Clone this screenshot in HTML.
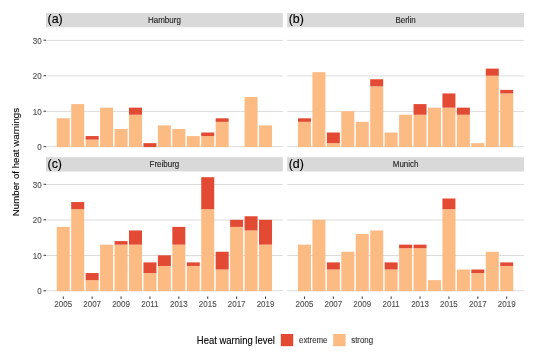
<!DOCTYPE html>
<html><head><meta charset="utf-8"><style>
html,body{margin:0;padding:0;background:#fff;}
svg{display:block;font-family:"Liberation Sans", sans-serif;will-change:transform;}
</style></head><body>
<svg width="550" height="355" viewBox="0 0 550 355">
<rect width="550" height="355" fill="#fff"/>
<rect x="46" y="13" width="236.8" height="14.3" fill="#D9D9D9"/>
<text transform="translate(164.4,22.9) scale(1,1.1)" font-size="8" fill="#1A1A1A" stroke="#1A1A1A" stroke-width="0.1" text-anchor="middle">Hamburg</text>
<text transform="translate(47.5,23.4)" font-size="12.4" fill="#000" stroke="#000" stroke-width="0.15">(a)</text>
<rect x="46" y="146.1" width="236.8" height="1" fill="#DCDCDC"/>
<rect x="43.6" y="146.2" width="2.4" height="1" fill="#333"/>
<text transform="translate(41.7,150) scale(1,1.15)" font-size="8" fill="#4D4D4D" stroke="#4D4D4D" stroke-width="0.1" text-anchor="end">0</text>
<rect x="46" y="110.9" width="236.8" height="1" fill="#DCDCDC"/>
<rect x="43.6" y="110.7" width="2.4" height="1" fill="#333"/>
<text transform="translate(41.7,114.5) scale(1,1.15)" font-size="8" fill="#4D4D4D" stroke="#4D4D4D" stroke-width="0.1" text-anchor="end">10</text>
<rect x="46" y="75.4" width="236.8" height="1" fill="#DCDCDC"/>
<rect x="43.6" y="75.2" width="2.4" height="1" fill="#333"/>
<text transform="translate(41.7,79) scale(1,1.15)" font-size="8" fill="#4D4D4D" stroke="#4D4D4D" stroke-width="0.1" text-anchor="end">20</text>
<rect x="46" y="39.9" width="236.8" height="1" fill="#DCDCDC"/>
<rect x="43.6" y="39.7" width="2.4" height="1" fill="#333"/>
<text transform="translate(41.7,43.5) scale(1,1.15)" font-size="8" fill="#4D4D4D" stroke="#4D4D4D" stroke-width="0.1" text-anchor="end">30</text>
<rect x="56.76" y="118.3" width="13" height="28.8" fill="#FDBB84"/>
<rect x="71.21" y="104.1" width="13" height="43" fill="#FDBB84"/>
<rect x="85.66" y="139.6" width="13" height="7.5" fill="#FDBB84"/>
<rect x="85.66" y="136.05" width="13" height="3.55" fill="#E34A33"/>
<rect x="100.1" y="107.65" width="13" height="39.45" fill="#FDBB84"/>
<rect x="114.55" y="128.95" width="13" height="18.15" fill="#FDBB84"/>
<rect x="129" y="114.75" width="13" height="32.35" fill="#FDBB84"/>
<rect x="129" y="107.65" width="13" height="7.1" fill="#E34A33"/>
<rect x="143.45" y="143.15" width="13" height="3.95" fill="#E34A33"/>
<rect x="157.89" y="125.4" width="13" height="21.7" fill="#FDBB84"/>
<rect x="172.34" y="128.95" width="13" height="18.15" fill="#FDBB84"/>
<rect x="186.79" y="136.05" width="13" height="11.05" fill="#FDBB84"/>
<rect x="201.23" y="136.05" width="13" height="11.05" fill="#FDBB84"/>
<rect x="201.23" y="132.5" width="13" height="3.55" fill="#E34A33"/>
<rect x="215.68" y="121.85" width="13" height="25.25" fill="#FDBB84"/>
<rect x="215.68" y="118.3" width="13" height="3.55" fill="#E34A33"/>
<rect x="244.57" y="97" width="13" height="50.1" fill="#FDBB84"/>
<rect x="259.02" y="125.4" width="13" height="21.7" fill="#FDBB84"/>
<rect x="287.2" y="13" width="236.8" height="14.3" fill="#D9D9D9"/>
<text transform="translate(405.6,22.9) scale(1,1.1)" font-size="8" fill="#1A1A1A" stroke="#1A1A1A" stroke-width="0.1" text-anchor="middle">Berlin</text>
<text transform="translate(288.7,23.4)" font-size="12.4" fill="#000" stroke="#000" stroke-width="0.15">(b)</text>
<rect x="287.2" y="146.1" width="236.8" height="1" fill="#DCDCDC"/>
<rect x="287.2" y="110.9" width="236.8" height="1" fill="#DCDCDC"/>
<rect x="287.2" y="75.4" width="236.8" height="1" fill="#DCDCDC"/>
<rect x="287.2" y="39.9" width="236.8" height="1" fill="#DCDCDC"/>
<rect x="297.96" y="121.85" width="13" height="25.25" fill="#FDBB84"/>
<rect x="297.96" y="118.3" width="13" height="3.55" fill="#E34A33"/>
<rect x="312.41" y="72.15" width="13" height="74.95" fill="#FDBB84"/>
<rect x="326.86" y="143.15" width="13" height="3.95" fill="#FDBB84"/>
<rect x="326.86" y="132.5" width="13" height="10.65" fill="#E34A33"/>
<rect x="341.3" y="111.2" width="13" height="35.9" fill="#FDBB84"/>
<rect x="355.75" y="121.85" width="13" height="25.25" fill="#FDBB84"/>
<rect x="370.2" y="86.35" width="13" height="60.75" fill="#FDBB84"/>
<rect x="370.2" y="79.25" width="13" height="7.1" fill="#E34A33"/>
<rect x="384.65" y="132.5" width="13" height="14.6" fill="#FDBB84"/>
<rect x="399.09" y="114.75" width="13" height="32.35" fill="#FDBB84"/>
<rect x="413.54" y="114.75" width="13" height="32.35" fill="#FDBB84"/>
<rect x="413.54" y="104.1" width="13" height="10.65" fill="#E34A33"/>
<rect x="427.99" y="107.65" width="13" height="39.45" fill="#FDBB84"/>
<rect x="442.43" y="107.65" width="13" height="39.45" fill="#FDBB84"/>
<rect x="442.43" y="93.45" width="13" height="14.2" fill="#E34A33"/>
<rect x="456.88" y="114.75" width="13" height="32.35" fill="#FDBB84"/>
<rect x="456.88" y="107.65" width="13" height="7.1" fill="#E34A33"/>
<rect x="471.33" y="143.15" width="13" height="3.95" fill="#FDBB84"/>
<rect x="485.77" y="75.7" width="13" height="71.4" fill="#FDBB84"/>
<rect x="485.77" y="68.6" width="13" height="7.1" fill="#E34A33"/>
<rect x="500.22" y="93.45" width="13" height="53.65" fill="#FDBB84"/>
<rect x="500.22" y="89.9" width="13" height="3.55" fill="#E34A33"/>
<rect x="46" y="157.2" width="236.8" height="14.3" fill="#D9D9D9"/>
<text transform="translate(164.4,167.1) scale(1,1.1)" font-size="8" fill="#1A1A1A" stroke="#1A1A1A" stroke-width="0.1" text-anchor="middle">Freiburg</text>
<text transform="translate(47.5,167.6)" font-size="12.4" fill="#000" stroke="#000" stroke-width="0.15">(c)</text>
<rect x="46" y="290.2" width="236.8" height="1" fill="#DCDCDC"/>
<rect x="43.6" y="290.3" width="2.4" height="1" fill="#333"/>
<text transform="translate(41.7,294.1) scale(1,1.15)" font-size="8" fill="#4D4D4D" stroke="#4D4D4D" stroke-width="0.1" text-anchor="end">0</text>
<rect x="46" y="255" width="236.8" height="1" fill="#DCDCDC"/>
<rect x="43.6" y="254.8" width="2.4" height="1" fill="#333"/>
<text transform="translate(41.7,258.6) scale(1,1.15)" font-size="8" fill="#4D4D4D" stroke="#4D4D4D" stroke-width="0.1" text-anchor="end">10</text>
<rect x="46" y="219.5" width="236.8" height="1" fill="#DCDCDC"/>
<rect x="43.6" y="219.3" width="2.4" height="1" fill="#333"/>
<text transform="translate(41.7,223.1) scale(1,1.15)" font-size="8" fill="#4D4D4D" stroke="#4D4D4D" stroke-width="0.1" text-anchor="end">20</text>
<rect x="46" y="184" width="236.8" height="1" fill="#DCDCDC"/>
<rect x="43.6" y="183.8" width="2.4" height="1" fill="#333"/>
<text transform="translate(41.7,187.6) scale(1,1.15)" font-size="8" fill="#4D4D4D" stroke="#4D4D4D" stroke-width="0.1" text-anchor="end">30</text>
<rect x="56.76" y="226.9" width="13" height="64.3" fill="#FDBB84"/>
<rect x="71.21" y="209.15" width="13" height="82.05" fill="#FDBB84"/>
<rect x="71.21" y="202.05" width="13" height="7.1" fill="#E34A33"/>
<rect x="85.66" y="280.15" width="13" height="11.05" fill="#FDBB84"/>
<rect x="85.66" y="273.05" width="13" height="7.1" fill="#E34A33"/>
<rect x="100.1" y="244.65" width="13" height="46.55" fill="#FDBB84"/>
<rect x="114.55" y="244.65" width="13" height="46.55" fill="#FDBB84"/>
<rect x="114.55" y="241.1" width="13" height="3.55" fill="#E34A33"/>
<rect x="129" y="244.65" width="13" height="46.55" fill="#FDBB84"/>
<rect x="129" y="230.45" width="13" height="14.2" fill="#E34A33"/>
<rect x="143.45" y="273.05" width="13" height="18.15" fill="#FDBB84"/>
<rect x="143.45" y="262.4" width="13" height="10.65" fill="#E34A33"/>
<rect x="157.89" y="265.95" width="13" height="25.25" fill="#FDBB84"/>
<rect x="157.89" y="255.3" width="13" height="10.65" fill="#E34A33"/>
<rect x="172.34" y="244.65" width="13" height="46.55" fill="#FDBB84"/>
<rect x="172.34" y="226.9" width="13" height="17.75" fill="#E34A33"/>
<rect x="186.79" y="265.95" width="13" height="25.25" fill="#FDBB84"/>
<rect x="186.79" y="262.4" width="13" height="3.55" fill="#E34A33"/>
<rect x="201.23" y="209.15" width="13" height="82.05" fill="#FDBB84"/>
<rect x="201.23" y="177.2" width="13" height="31.95" fill="#E34A33"/>
<rect x="215.68" y="269.5" width="13" height="21.7" fill="#FDBB84"/>
<rect x="215.68" y="251.75" width="13" height="17.75" fill="#E34A33"/>
<rect x="230.13" y="226.9" width="13" height="64.3" fill="#FDBB84"/>
<rect x="230.13" y="219.8" width="13" height="7.1" fill="#E34A33"/>
<rect x="244.57" y="230.45" width="13" height="60.75" fill="#FDBB84"/>
<rect x="244.57" y="216.25" width="13" height="14.2" fill="#E34A33"/>
<rect x="259.02" y="244.65" width="13" height="46.55" fill="#FDBB84"/>
<rect x="259.02" y="219.8" width="13" height="24.85" fill="#E34A33"/>
<rect x="62.76" y="296.48" width="1" height="2.4" fill="#333"/>
<text transform="translate(63.26,306.78) scale(1,1.15)" font-size="8" fill="#4D4D4D" stroke="#4D4D4D" stroke-width="0.1" text-anchor="middle">2005</text>
<rect x="91.66" y="296.48" width="1" height="2.4" fill="#333"/>
<text transform="translate(92.16,306.78) scale(1,1.15)" font-size="8" fill="#4D4D4D" stroke="#4D4D4D" stroke-width="0.1" text-anchor="middle">2007</text>
<rect x="120.55" y="296.48" width="1" height="2.4" fill="#333"/>
<text transform="translate(121.05,306.78) scale(1,1.15)" font-size="8" fill="#4D4D4D" stroke="#4D4D4D" stroke-width="0.1" text-anchor="middle">2009</text>
<rect x="149.45" y="296.48" width="1" height="2.4" fill="#333"/>
<text transform="translate(149.95,306.78) scale(1,1.15)" font-size="8" fill="#4D4D4D" stroke="#4D4D4D" stroke-width="0.1" text-anchor="middle">2011</text>
<rect x="178.34" y="296.48" width="1" height="2.4" fill="#333"/>
<text transform="translate(178.84,306.78) scale(1,1.15)" font-size="8" fill="#4D4D4D" stroke="#4D4D4D" stroke-width="0.1" text-anchor="middle">2013</text>
<rect x="207.23" y="296.48" width="1" height="2.4" fill="#333"/>
<text transform="translate(207.73,306.78) scale(1,1.15)" font-size="8" fill="#4D4D4D" stroke="#4D4D4D" stroke-width="0.1" text-anchor="middle">2015</text>
<rect x="236.13" y="296.48" width="1" height="2.4" fill="#333"/>
<text transform="translate(236.63,306.78) scale(1,1.15)" font-size="8" fill="#4D4D4D" stroke="#4D4D4D" stroke-width="0.1" text-anchor="middle">2017</text>
<rect x="265.02" y="296.48" width="1" height="2.4" fill="#333"/>
<text transform="translate(265.52,306.78) scale(1,1.15)" font-size="8" fill="#4D4D4D" stroke="#4D4D4D" stroke-width="0.1" text-anchor="middle">2019</text>
<rect x="287.2" y="157.2" width="236.8" height="14.3" fill="#D9D9D9"/>
<text transform="translate(405.6,167.1) scale(1,1.1)" font-size="8" fill="#1A1A1A" stroke="#1A1A1A" stroke-width="0.1" text-anchor="middle">Munich</text>
<text transform="translate(288.7,167.6)" font-size="12.4" fill="#000" stroke="#000" stroke-width="0.15">(d)</text>
<rect x="287.2" y="290.2" width="236.8" height="1" fill="#DCDCDC"/>
<rect x="287.2" y="255" width="236.8" height="1" fill="#DCDCDC"/>
<rect x="287.2" y="219.5" width="236.8" height="1" fill="#DCDCDC"/>
<rect x="287.2" y="184" width="236.8" height="1" fill="#DCDCDC"/>
<rect x="297.96" y="244.65" width="13" height="46.55" fill="#FDBB84"/>
<rect x="312.41" y="219.8" width="13" height="71.4" fill="#FDBB84"/>
<rect x="326.86" y="269.5" width="13" height="21.7" fill="#FDBB84"/>
<rect x="326.86" y="262.4" width="13" height="7.1" fill="#E34A33"/>
<rect x="341.3" y="251.75" width="13" height="39.45" fill="#FDBB84"/>
<rect x="355.75" y="234" width="13" height="57.2" fill="#FDBB84"/>
<rect x="370.2" y="230.45" width="13" height="60.75" fill="#FDBB84"/>
<rect x="384.65" y="269.5" width="13" height="21.7" fill="#FDBB84"/>
<rect x="384.65" y="262.4" width="13" height="7.1" fill="#E34A33"/>
<rect x="399.09" y="248.2" width="13" height="43" fill="#FDBB84"/>
<rect x="399.09" y="244.65" width="13" height="3.55" fill="#E34A33"/>
<rect x="413.54" y="248.2" width="13" height="43" fill="#FDBB84"/>
<rect x="413.54" y="244.65" width="13" height="3.55" fill="#E34A33"/>
<rect x="427.99" y="280.15" width="13" height="11.05" fill="#FDBB84"/>
<rect x="442.43" y="209.15" width="13" height="82.05" fill="#FDBB84"/>
<rect x="442.43" y="198.5" width="13" height="10.65" fill="#E34A33"/>
<rect x="456.88" y="269.5" width="13" height="21.7" fill="#FDBB84"/>
<rect x="471.33" y="273.05" width="13" height="18.15" fill="#FDBB84"/>
<rect x="471.33" y="269.5" width="13" height="3.55" fill="#E34A33"/>
<rect x="485.77" y="251.75" width="13" height="39.45" fill="#FDBB84"/>
<rect x="500.22" y="265.95" width="13" height="25.25" fill="#FDBB84"/>
<rect x="500.22" y="262.4" width="13" height="3.55" fill="#E34A33"/>
<rect x="303.96" y="296.48" width="1" height="2.4" fill="#333"/>
<text transform="translate(304.46,306.78) scale(1,1.15)" font-size="8" fill="#4D4D4D" stroke="#4D4D4D" stroke-width="0.1" text-anchor="middle">2005</text>
<rect x="332.86" y="296.48" width="1" height="2.4" fill="#333"/>
<text transform="translate(333.36,306.78) scale(1,1.15)" font-size="8" fill="#4D4D4D" stroke="#4D4D4D" stroke-width="0.1" text-anchor="middle">2007</text>
<rect x="361.75" y="296.48" width="1" height="2.4" fill="#333"/>
<text transform="translate(362.25,306.78) scale(1,1.15)" font-size="8" fill="#4D4D4D" stroke="#4D4D4D" stroke-width="0.1" text-anchor="middle">2009</text>
<rect x="390.65" y="296.48" width="1" height="2.4" fill="#333"/>
<text transform="translate(391.15,306.78) scale(1,1.15)" font-size="8" fill="#4D4D4D" stroke="#4D4D4D" stroke-width="0.1" text-anchor="middle">2011</text>
<rect x="419.54" y="296.48" width="1" height="2.4" fill="#333"/>
<text transform="translate(420.04,306.78) scale(1,1.15)" font-size="8" fill="#4D4D4D" stroke="#4D4D4D" stroke-width="0.1" text-anchor="middle">2013</text>
<rect x="448.43" y="296.48" width="1" height="2.4" fill="#333"/>
<text transform="translate(448.93,306.78) scale(1,1.15)" font-size="8" fill="#4D4D4D" stroke="#4D4D4D" stroke-width="0.1" text-anchor="middle">2015</text>
<rect x="477.33" y="296.48" width="1" height="2.4" fill="#333"/>
<text transform="translate(477.83,306.78) scale(1,1.15)" font-size="8" fill="#4D4D4D" stroke="#4D4D4D" stroke-width="0.1" text-anchor="middle">2017</text>
<rect x="506.22" y="296.48" width="1" height="2.4" fill="#333"/>
<text transform="translate(506.72,306.78) scale(1,1.15)" font-size="8" fill="#4D4D4D" stroke="#4D4D4D" stroke-width="0.1" text-anchor="middle">2019</text>
<text transform="translate(18.8,162.1) rotate(-90)" font-size="9.7" fill="#000" stroke="#000" stroke-width="0.1" text-anchor="middle">Number of heat warnings</text>
<text transform="translate(196.8,343.5) scale(1,1.15)" font-size="9.5" fill="#000" stroke="#000" stroke-width="0.1">Heat warning level</text>
<rect x="280.8" y="334" width="12.4" height="12.2" fill="#E34A33"/>
<text transform="translate(299,343.2) scale(1,1.15)" font-size="7.9" fill="#333" stroke="#333" stroke-width="0.1">extreme</text>
<rect x="333.2" y="334" width="12.4" height="12.2" fill="#FDBB84"/>
<text transform="translate(351.2,343.2) scale(1,1.15)" font-size="7.9" fill="#333" stroke="#333" stroke-width="0.1">strong</text>
</svg></body></html>
